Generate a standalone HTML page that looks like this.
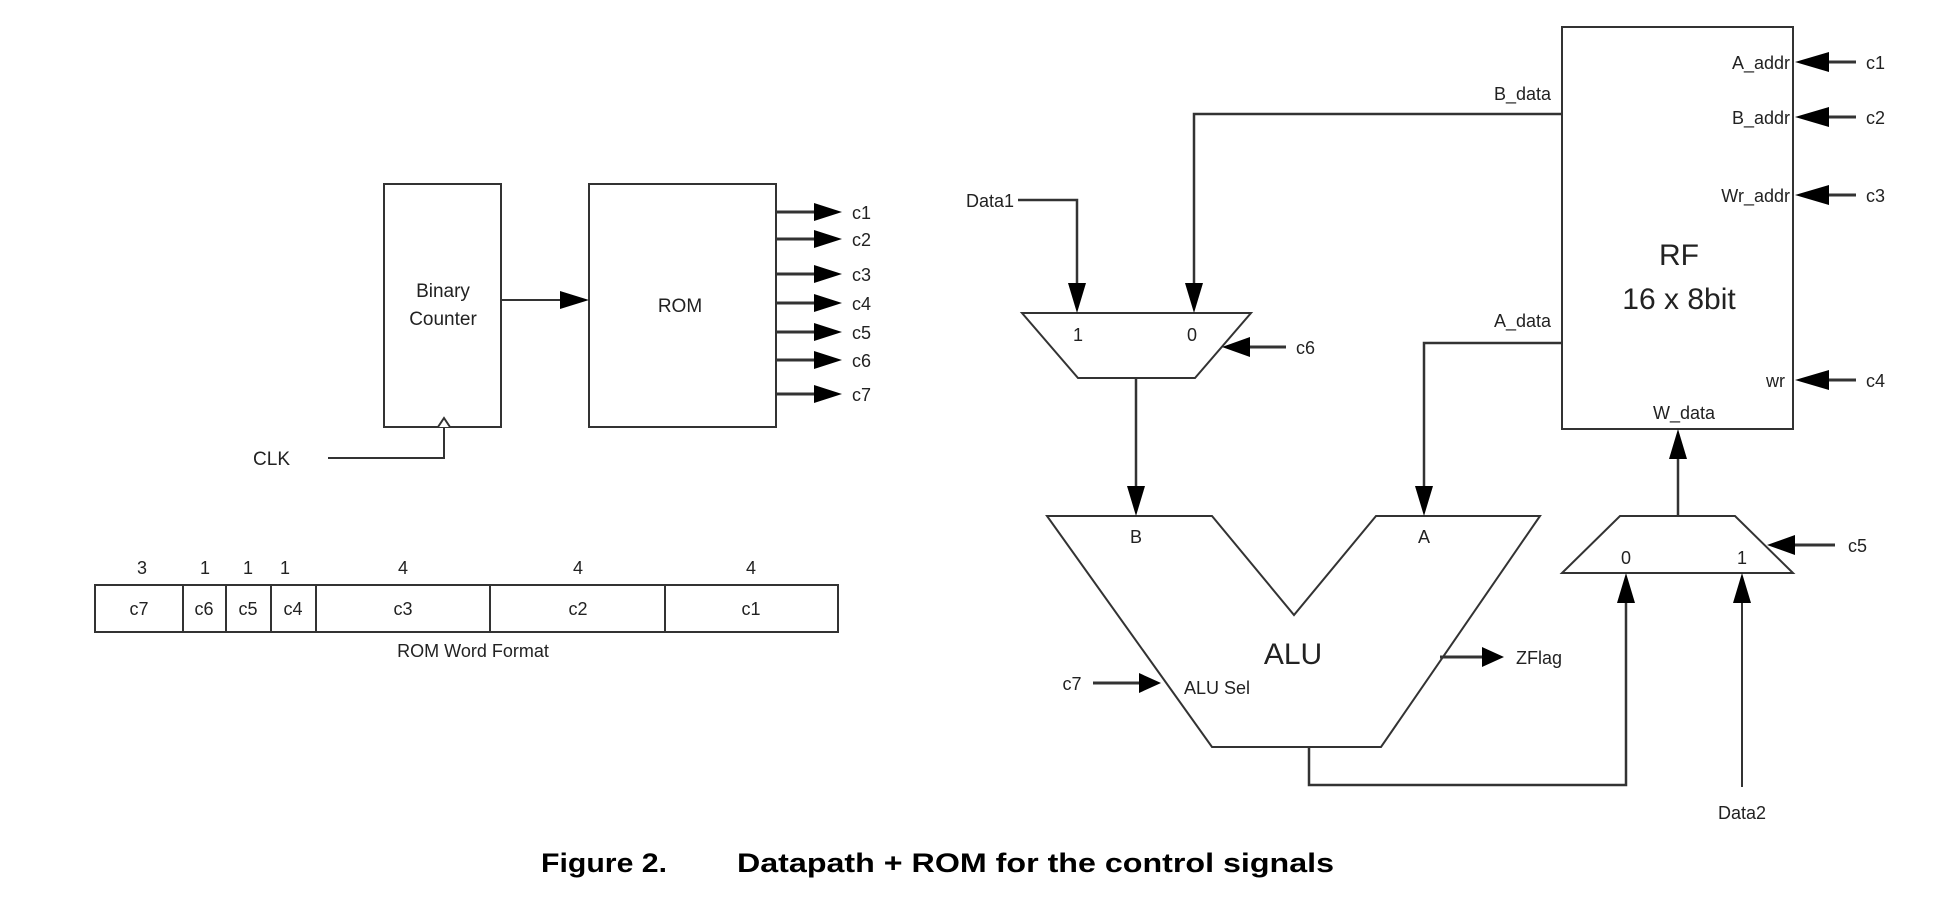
<!DOCTYPE html>
<html><head><meta charset="utf-8"><style>
html,body{margin:0;padding:0;background:#fff;}
svg{display:block;}
text{font-family:"Liberation Sans",Arial,sans-serif;fill:#222;}
</style></head><body>
<svg width="1952" height="913" viewBox="0 0 1952 913" xmlns="http://www.w3.org/2000/svg">
<g fill="none" stroke="#333" stroke-width="2">
<rect x="384" y="184" width="117" height="243"/>
<polyline points="438,427 444,418 450,427" fill="#fff"/>
<polyline points="328,458 444,458 444,428"/>
<rect x="589" y="184" width="187" height="243"/>
<line x1="501" y1="300" x2="560" y2="300"/>
<line x1="776" y1="212" x2="815" y2="212" stroke-width="3"/>
<line x1="776" y1="239" x2="815" y2="239" stroke-width="3"/>
<line x1="776" y1="274" x2="815" y2="274" stroke-width="3"/>
<line x1="776" y1="303" x2="815" y2="303" stroke-width="3"/>
<line x1="776" y1="332" x2="815" y2="332" stroke-width="3"/>
<line x1="776" y1="360" x2="815" y2="360" stroke-width="3"/>
<line x1="776" y1="394" x2="815" y2="394" stroke-width="3"/>
<rect x="95" y="585" width="743" height="47"/>
<line x1="183" y1="585" x2="183" y2="632"/>
<line x1="226" y1="585" x2="226" y2="632"/>
<line x1="271" y1="585" x2="271" y2="632"/>
<line x1="316" y1="585" x2="316" y2="632"/>
<line x1="490" y1="585" x2="490" y2="632"/>
<line x1="665" y1="585" x2="665" y2="632"/>
<rect x="1562" y="27" width="231" height="402"/>
<line x1="1828" y1="62" x2="1856" y2="62" stroke-width="3"/>
<line x1="1828" y1="117" x2="1856" y2="117" stroke-width="3"/>
<line x1="1828" y1="195" x2="1856" y2="195" stroke-width="3"/>
<line x1="1828" y1="380" x2="1856" y2="380" stroke-width="3"/>
<polyline points="1562,114 1194,114 1194,295" stroke-width="2.5"/>
<polyline points="1018,200 1077,200 1077,295" stroke-width="2.5"/>
<polygon points="1022,313 1251,313 1195,378 1078,378" fill="#fff"/>
<line x1="1245" y1="347" x2="1286" y2="347" stroke-width="3"/>
<line x1="1136" y1="378" x2="1136" y2="498" stroke-width="2.5"/>
<polyline points="1562,343 1424,343 1424,498" stroke-width="2.5"/>
<polygon points="1047,516 1212,516 1294,615 1376,516 1540,516 1381,747 1212,747" fill="#fff"/>
<line x1="1093" y1="683" x2="1140" y2="683" stroke-width="3"/>
<line x1="1440" y1="657" x2="1484" y2="657" stroke-width="3"/>
<polyline points="1309,747 1309,785 1626,785 1626,595" stroke-width="2.5"/>
<polygon points="1620,516 1735,516 1793,573 1562,573" fill="#fff"/>
<line x1="1742" y1="787" x2="1742" y2="595"/>
<line x1="1678" y1="516" x2="1678" y2="450" stroke-width="2.5"/>
<line x1="1790" y1="545" x2="1835" y2="545" stroke-width="3"/>
</g>
<g fill="#000">
<polygon points="560,291 589,300 560,309"/>
<polygon points="814,203 842,212 814,221"/>
<polygon points="814,230 842,239 814,248"/>
<polygon points="814,265 842,274 814,283"/>
<polygon points="814,294 842,303 814,312"/>
<polygon points="814,323 842,332 814,341"/>
<polygon points="814,351 842,360 814,369"/>
<polygon points="814,385 842,394 814,403"/>
<polygon points="1829,52 1795,62 1829,72"/>
<polygon points="1829,107 1795,117 1829,127"/>
<polygon points="1829,185 1795,195 1829,205"/>
<polygon points="1829,370 1795,380 1829,390"/>
<polygon points="1068,283 1077,313 1086,283"/>
<polygon points="1185,283 1194,313 1203,283"/>
<polygon points="1250,337 1222,347 1250,357"/>
<polygon points="1127,486 1136,516 1145,486"/>
<polygon points="1415,486 1424,516 1433,486"/>
<polygon points="1139,673 1161,683 1139,693"/>
<polygon points="1482,647 1504,657 1482,667"/>
<polygon points="1617,603 1626,573 1635,603"/>
<polygon points="1733,603 1742,573 1751,603"/>
<polygon points="1669,459 1678,429 1687,459"/>
<polygon points="1795,535 1767,545 1795,555"/>
</g>
<g font-size="19">
<text x="443" y="297" text-anchor="middle">Binary</text>
<text x="443" y="325" text-anchor="middle">Counter</text>
<text x="680" y="312" text-anchor="middle">ROM</text>
<text x="290" y="465" text-anchor="end">CLK</text>
<g font-size="18">
<text x="852" y="219">c1</text><text x="852" y="246">c2</text><text x="852" y="281">c3</text><text x="852" y="310">c4</text><text x="852" y="339">c5</text><text x="852" y="367">c6</text><text x="852" y="401">c7</text>
</g>
<g text-anchor="middle" font-size="18">
<text x="142" y="574">3</text><text x="205" y="574">1</text><text x="248" y="574">1</text><text x="285" y="574">1</text><text x="403" y="574">4</text><text x="578" y="574">4</text><text x="751" y="574">4</text>
<text x="139" y="615">c7</text><text x="204" y="615">c6</text><text x="248" y="615">c5</text><text x="293" y="615">c4</text><text x="403" y="615">c3</text><text x="578" y="615">c2</text><text x="751" y="615">c1</text>
<text x="473" y="657">ROM Word Format</text>
</g>
<g font-size="18">
<text x="1790" y="69" text-anchor="end">A_addr</text>
<text x="1790" y="124" text-anchor="end">B_addr</text>
<text x="1790" y="202" text-anchor="end">Wr_addr</text>
<text x="1785" y="387" text-anchor="end">wr</text>
<text x="1684" y="419" text-anchor="middle">W_data</text>
<text x="1866" y="69">c1</text><text x="1866" y="124">c2</text><text x="1866" y="202">c3</text><text x="1866" y="387">c4</text>
<text x="1551" y="100" text-anchor="end">B_data</text>
<text x="1551" y="327" text-anchor="end">A_data</text>
<text x="1014" y="207" text-anchor="end">Data1</text>
<text x="1078" y="341" text-anchor="middle">1</text>
<text x="1192" y="341" text-anchor="middle">0</text>
<text x="1296" y="354">c6</text>
<text x="1136" y="543" text-anchor="middle">B</text>
<text x="1424" y="543" text-anchor="middle">A</text>
<text x="1184" y="694">ALU Sel</text>
<text x="1072" y="690" text-anchor="middle">c7</text>
<text x="1516" y="664">ZFlag</text>
<text x="1626" y="564" text-anchor="middle">0</text>
<text x="1742" y="564" text-anchor="middle">1</text>
<text x="1848" y="552">c5</text>
<text x="1742" y="819" text-anchor="middle">Data2</text>
</g>
<text x="1679" y="265" text-anchor="middle" font-size="30">RF</text>
<text x="1679" y="309" text-anchor="middle" font-size="30">16 x 8bit</text>
<text x="1293" y="664" text-anchor="middle" font-size="30">ALU</text>
</g>
<g font-size="27" font-weight="bold">
<text x="541" y="872" textLength="126" lengthAdjust="spacingAndGlyphs" style="fill:#000">Figure 2.</text>
<text x="737" y="872" textLength="597" lengthAdjust="spacingAndGlyphs" style="fill:#000">Datapath + ROM for the control signals</text>
</g>
</svg>
</body></html>
